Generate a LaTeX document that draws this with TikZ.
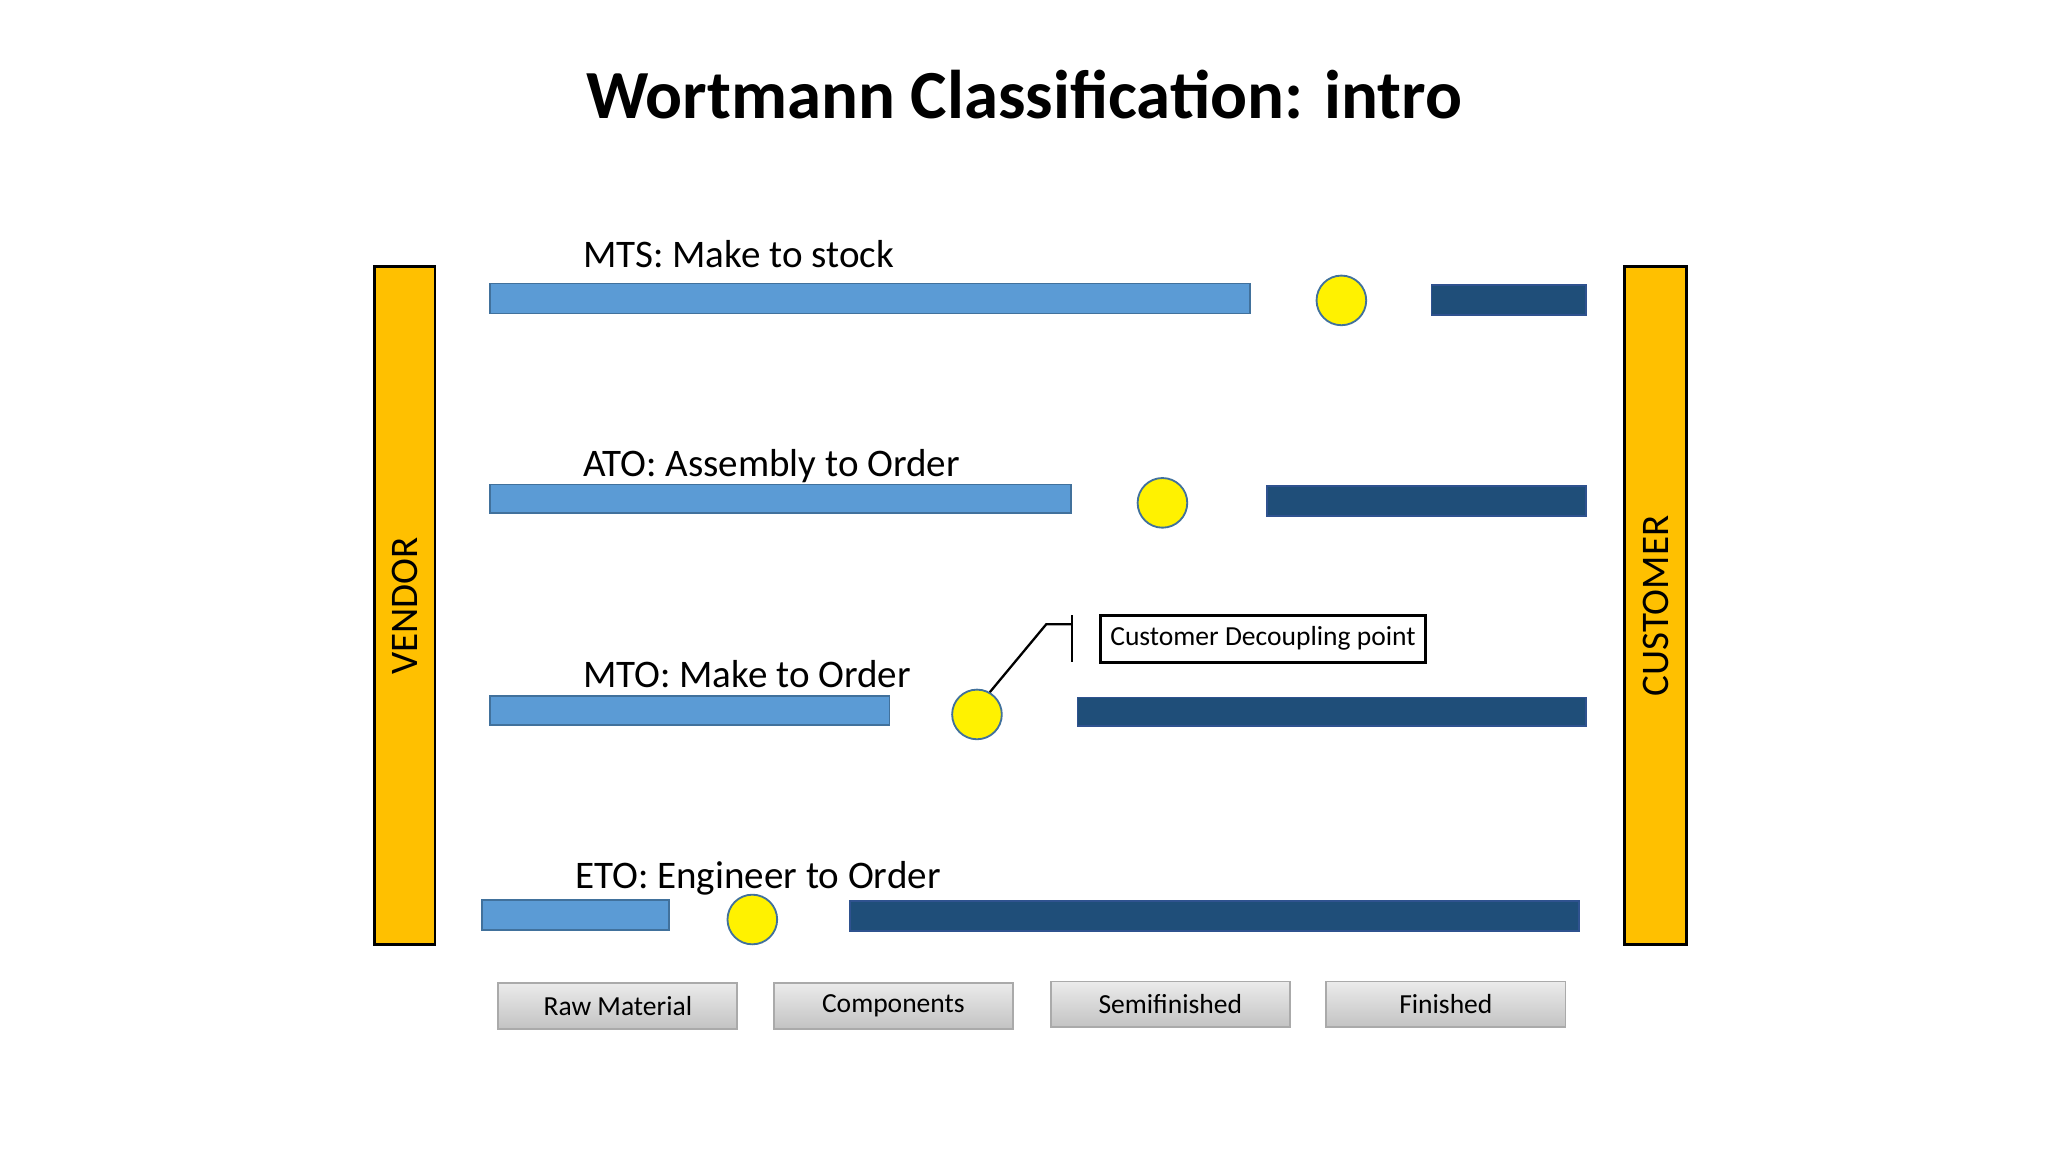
\documentclass[tikz,border=0pt]{standalone}
\usepackage{fontspec}
\setmainfont{Carlito}
\begin{document}
\begin{tikzpicture}[x=0.01cm,y=-0.01cm,
 side/.style={draw=black,fill={rgb,255:red,255;green,192;blue,0},line width=0.6pt},
 lb/.style={draw={rgb,255:red,65;green,113;blue,156},fill={rgb,255:red,91;green,155;blue,213},line width=0.4pt},
 db/.style={draw={rgb,255:red,47;green,82;blue,143},fill={rgb,255:red,31;green,78;blue,121},line width=0.4pt},
 dot/.style={circle,draw={rgb,255:red,65;green,113;blue,156},fill=yellow,minimum size=0.38cm,inner sep=0pt,line width=0.4pt},
 lab/.style={anchor=base west,font=\fontsize{8.5pt}{10pt}\selectfont},
 cat/.style={draw={rgb,255:red,170;green,170;blue,170},top color={rgb,255:red,235;green,235;blue,235},bottom color={rgb,255:red,195;green,195;blue,195},minimum width=1.83cm,minimum height=0.35cm,inner sep=0pt,font=\fontsize{6pt}{7pt}\selectfont}]
\useasboundingbox (0,0) rectangle (1568,882);
\node[font=\bfseries\fontsize{15pt}{18pt}\selectfont] (title) at (784,72) {Wortmann Classification: intro};
\draw[side] (287,204) rectangle (333,723);
\node[rotate=90,font=\fontsize{8.5pt}{10pt}\selectfont] (vendor) at (310,464) {VENDOR};
\draw[side] (1244,204) rectangle (1291,723);
\node[rotate=90,font=\fontsize{8.5pt}{10pt}\selectfont] (customer) at (1268,464) {CUSTOMER};
% MTS
\node[lab] (l1) at (434,205) {MTS: Make to stock};
\draw[lb] (375,217) rectangle (957,240);
\node[dot] (c1) at (1027,230) {};
\draw[db] (1096,218) rectangle (1214,241);
% ATO
\node[lab] (l2) at (434,365) {ATO: Assembly to Order};
\draw[lb] (375,371) rectangle (820,393);
\node[dot] (c2) at (890,385) {};
\draw[db] (970,372) rectangle (1214,395);
% MTO
\node[lab] (l3) at (434,526) {MTO: Make to Order};
\draw[lb] (375,533) rectangle (681,555);
\node[dot] (c3) at (748,547) {};
\draw[db] (825,534) rectangle (1214,556);
% ETO
\node[lab] (l4) at (428,680) {ETO: Engineer to Order};
\draw[lb] (369,689) rectangle (512,712);
\node[dot] (c4) at (576,704) {};
\draw[db] (651,690) rectangle (1209,713);
% callout
\node[draw=black,line width=0.6pt,minimum width=2.49cm,minimum height=0.36cm,inner sep=0pt,font=\fontsize{6pt}{7pt}\selectfont] (cdp) at (967,489) {Customer Decoupling point};
\coordinate (k) at (801,478);
\coordinate (t) at (821,478);
\draw[line width=0.5pt] (c3.60) -- (k) -- (t);
\draw[line width=0.5pt] (821,471) -- (821,507);
% categories
\node[cat] (b1) at (473,770) {Raw Material};
\node[cat] (b2) at (684,770) {Components};
\node[cat] (b3) at (896,769) {Semifinished};
\node[cat] (b4) at (1107,769) {Finished};
\end{tikzpicture}
\end{document}
